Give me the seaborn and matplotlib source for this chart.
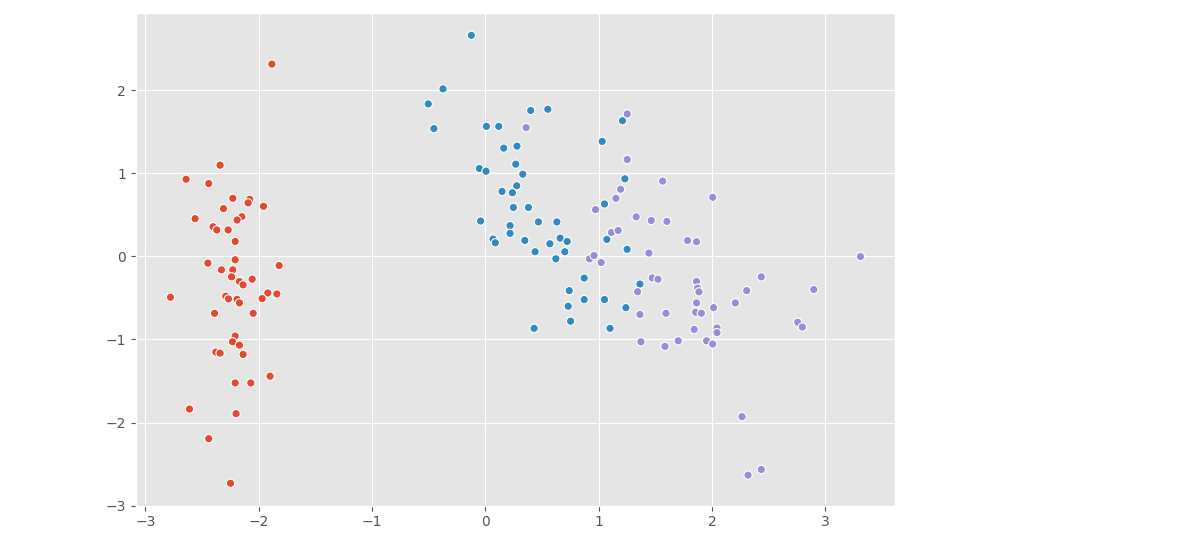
import numpy as np
import pandas as pd
import matplotlib
matplotlib.use("Agg")
import matplotlib.pyplot as plt
import seaborn as sns

plt.style.use("ggplot")

# Group A (red)
a_x = [-2.341, -2.641, -2.441, -2.229, -2.079, -2.094, -1.958, -2.311, -2.562, -2.149,
       -2.191, -2.403, -2.370, -2.270, -2.208, -2.208, -2.449, -1.820, -2.329, -2.229,
       -2.240, -2.170, -2.138, -2.058, -2.779, -2.291, -2.267, -2.191, -2.170, -1.920,
       -1.840, -1.970, -2.390, -2.049, -2.208, -2.231, -2.170, -2.379, -2.341, -2.138,
       -1.900, -2.208, -2.070, -2.611, -2.200, -2.441, -2.249, -1.884]
a_y = [1.098, 0.929, 0.877, 0.699, 0.687, 0.644, 0.603, 0.575, 0.454, 0.478,
       0.438, 0.357, 0.318, 0.318, 0.180, -0.041, -0.081, -0.110, -0.162, -0.162,
       -0.246, -0.303, -0.343, -0.274, -0.492, -0.479, -0.512, -0.516, -0.560, -0.440,
       -0.452, -0.508, -0.685, -0.685, -0.959, -1.028, -1.068, -1.152, -1.164, -1.180,
       -1.442, -1.523, -1.523, -1.837, -1.893, -2.194, -2.731, 2.314]

# Group B (blue)
b_x = [-0.124, -0.374, -0.504, -0.454, 0.009, 0.118, 0.400, 0.551, 0.162, 0.279,
       0.268, -0.053, 0.006, 0.330, 0.277, 0.147, 0.238, 0.247, 0.380, -0.042,
       0.218, 0.218, 0.468, 0.631, 0.068, 0.088, 0.348, 0.660, 0.722, 0.569,
       0.439, 0.701, 0.622, 1.031, 1.210, 1.231, 1.051, 1.072, 1.251, 0.872,
       1.364, 0.740, 0.872, 1.051, 0.731, 1.240, 0.752, 0.430, 1.100]
b_y = [2.660, 2.016, 1.835, 1.538, 1.565, 1.565, 1.756, 1.771, 1.303, 1.327,
       1.110, 1.058, 1.025, 0.989, 0.850, 0.782, 0.766, 0.589, 0.589, 0.426,
       0.370, 0.277, 0.415, 0.415, 0.209, 0.164, 0.192, 0.220, 0.180, 0.152,
       0.056, 0.056, -0.029, 1.384, 1.633, 0.934, 0.631, 0.204, 0.085, -0.261,
       -0.333, -0.412, -0.520, -0.520, -0.600, -0.617, -0.780, -0.866, -0.866]

# Group C (purple)
c_x = [0.360, 1.252, 1.252, 1.193, 1.152, 0.972, 1.331, 1.464, 1.564, 1.113,
       1.172, 1.443, 0.919, 0.959, 1.022, 1.473, 1.523, 1.343, 1.364, 2.006,
       1.602, 1.784, 1.864, 1.594, 1.864, 1.873, 1.885, 1.864, 1.855, 1.906,
       2.014, 2.206, 2.306, 1.843, 2.044, 2.044, 1.373, 1.585, 1.702, 1.952,
       2.006, 2.265, 3.310, 2.435, 2.898, 2.756, 2.797, 2.435, 2.318]
c_y = [1.550, 1.714, 1.166, 0.808, 0.699, 0.563, 0.476, 0.432, 0.906, 0.288,
       0.312, 0.040, -0.029, 0.011, -0.074, -0.259, -0.275, -0.425, -0.699, 0.711,
       0.421, 0.191, 0.176, -0.685, -0.302, -0.382, -0.427, -0.560, -0.672, -0.684,
       -0.617, -0.560, -0.412, -0.879, -0.862, -0.918, -1.028, -1.084, -1.016, -1.016,
       -1.055, -1.929, -0.002, -0.246, -0.399, -0.793, -0.850, -2.565, -2.633]

groups = ["A", "B", "C"]
colors = ["#E24A33", "#348ABD", "#988ED5"]

df = pd.DataFrame({
    "x": a_x + b_x + c_x,
    "y": a_y + b_y + c_y,
    "g": ["A"] * len(a_x) + ["B"] * len(b_x) + ["C"] * len(c_x),
})

fig = plt.figure(figsize=(12, 5.39), dpi=100)
ax = fig.add_axes([0.1133, 0.0618, 0.6325, 0.9141])
sns.scatterplot(data=df, x="x", y="y", hue="g", hue_order=groups,
                palette=colors, s=36, edgecolor="white", linewidth=0.8,
                legend=False, ax=ax)
ax.set_xlabel("")
ax.set_ylabel("")
ax.set_xticks([-3, -2, -1, 0, 1, 2, 3])
ax.set_yticks([-3, -2, -1, 0, 1, 2])
fig.savefig("out.png", dpi=100)
